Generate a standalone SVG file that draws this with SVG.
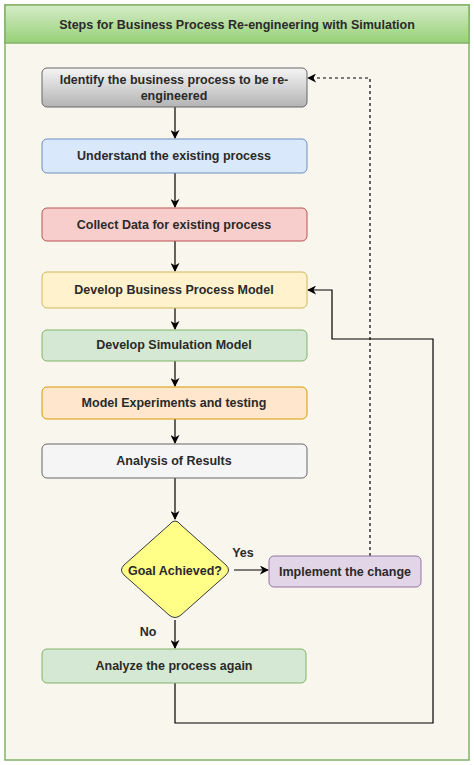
<svg xmlns="http://www.w3.org/2000/svg" width="474" height="765" viewBox="0 0 474 765">
<defs>
<linearGradient id="hdr" x1="0" y1="0" x2="0" y2="1"><stop offset="0" stop-color="#d5ecc8"/><stop offset="1" stop-color="#97d077"/></linearGradient>
<linearGradient id="gry" x1="0" y1="0" x2="0" y2="1"><stop offset="0" stop-color="#f5f5f5"/><stop offset="1" stop-color="#b3b3b3"/></linearGradient>
<marker id="arr" viewBox="0 0 10 10" refX="9" refY="5" markerWidth="9" markerHeight="9" orient="auto" markerUnits="userSpaceOnUse"><path d="M0,0 L10,5 L0,10 L3,5 Z" fill="#000"/></marker>
</defs>
<style>
text{font-family:"Liberation Sans",Arial,sans-serif;font-weight:bold;font-size:12.5px;fill:#2a2a2a;text-anchor:middle;dominant-baseline:central}
.c{fill:none;stroke:#000;stroke-width:1.2}
</style>
<rect width="474" height="765" fill="#ffffff"/>
<g id="container">
<rect x="5" y="5" width="464" height="755" fill="#f9f6ee" stroke="#82b366" stroke-width="1.5"/>
<rect x="5" y="5" width="464" height="38" fill="url(#hdr)" stroke="#82b366" stroke-width="1.5"/>
<text x="237" y="25">Steps for Business Process Re-engineering with Simulation</text>
</g>
<g id="connectors">
<path class="c" d="M175,107 V138" marker-end="url(#arr)"/>
<path class="c" d="M175,173 V207" marker-end="url(#arr)"/>
<path class="c" d="M175,241 V271" marker-end="url(#arr)"/>
<path class="c" d="M175,308 V329" marker-end="url(#arr)"/>
<path class="c" d="M175,361 V386" marker-end="url(#arr)"/>
<path class="c" d="M175,419 V443" marker-end="url(#arr)"/>
<path class="c" d="M175,478 V519" marker-end="url(#arr)"/>
<path class="c" d="M234,570 H268" marker-end="url(#arr)"/>
<path class="c" d="M175,620 V648" marker-end="url(#arr)"/>
<path class="c" d="M175,683 V723 H433 V339 H332 V290 H308" marker-end="url(#arr)"/>
<path class="c" d="M370,556 V78 H308" stroke-dasharray="3,3" marker-end="url(#arr)"/>
<text x="243" y="553">Yes</text>
<text x="148" y="632">No</text>
</g>
<g id="n1"><rect x="42" y="68" width="265" height="39" rx="5" fill="url(#gry)" stroke="#666"/><text x="174" y="80">Identify the business process to be re-</text><text x="174" y="96">engineered</text></g>
<g id="n2"><rect x="42" y="139" width="265" height="34" rx="5" fill="#dae8fc" stroke="#6c8ebf"/><text x="174" y="156">Understand the existing process</text></g>
<g id="n3"><rect x="42" y="208" width="265" height="33" rx="5" fill="#f8cecc" stroke="#b85450"/><text x="174" y="225">Collect Data for existing process</text></g>
<g id="n4"><rect x="42" y="272" width="265" height="36" rx="5" fill="#fff2cc" stroke="#d6b656"/><text x="174" y="290">Develop Business Process Model</text></g>
<g id="n5"><rect x="42" y="330" width="265" height="31" rx="5" fill="#d5e8d4" stroke="#82b366"/><text x="174" y="345">Develop Simulation Model</text></g>
<g id="n6"><rect x="42" y="387" width="265" height="32" rx="5" fill="#ffe6cc" stroke="#d79b00"/><text x="174" y="403">Model Experiments and testing</text></g>
<g id="n7"><rect x="42" y="444" width="265" height="34" rx="5" fill="#f5f5f5" stroke="#666"/><text x="174" y="461">Analysis of Results</text></g>
<g id="n8"><path d="M175,521 Q178,521 181,525 L226,565 Q231,570 226,575 L181,615 Q175,620 169,615 L124,575 Q119,570 124,565 L169,525 Q172,521 175,521 Z" fill="#ffff88" stroke="#36393d"/><text x="175" y="571">Goal Achieved?</text></g>
<g id="n9"><rect x="269" y="556" width="152" height="31" rx="5" fill="#e1d5e7" stroke="#9673a6"/><text x="345" y="572">Implement the change</text></g>
<g id="n10"><rect x="42" y="649" width="264" height="34" rx="5" fill="#d5e8d4" stroke="#82b366"/><text x="174" y="666">Analyze the process again</text></g>
</svg>
